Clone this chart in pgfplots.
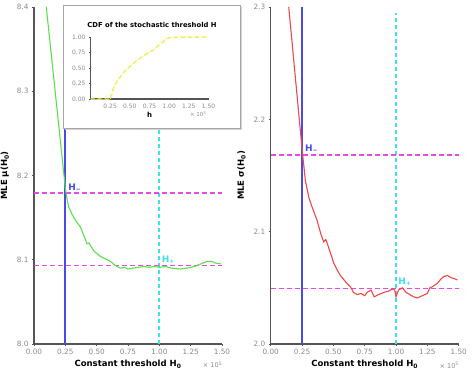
\documentclass[border=0pt]{standalone}
\usepackage{fontspec}
\setmainfont{DejaVu Sans}
\usepackage{pgfplots}
\pgfplotsset{compat=1.18}
\definecolor{axgray}{HTML}{555555}
\definecolor{tkgray}{HTML}{8A8A8A}
\definecolor{myblue}{HTML}{4A4AE8}
\definecolor{mycyan}{HTML}{3FE0F0}
\definecolor{mypink}{HTML}{E64AE6}
\definecolor{mygreen}{HTML}{5CE04A}
\definecolor{myred}{HTML}{EE4848}
\definecolor{myyellow}{HTML}{F2EE5A}
\pgfplotsset{
  panel/.style={
    scale only axis, width=188pt, height=337pt,
    xmin=0, xmax=1.5,
    axis x line*=bottom, axis y line*=left,
    axis line style={axgray, line width=1.4pt},
    tick style={axgray, line width=0.6pt},
    major tick length=2pt,
    tick align=outside,
    xtick={0,0.25,0.5,0.75,1.0,1.25,1.5},
    /pgf/number format/assume math mode=true,
    x tick label style={font=\fontsize{7.3}{8}\selectfont, text=tkgray, /pgf/number format/.cd, fixed, fixed zerofill, precision=2},
    y tick label style={font=\fontsize{7.3}{8}\selectfont, text=tkgray, /pgf/number format/.cd, fixed, fixed zerofill, precision=1},
    scaled x ticks=false, scaled y ticks=false,
    xlabel style={font=\bfseries\fontsize{8.5}{10}\selectfont, yshift=2pt},
    ylabel style={font=\bfseries\fontsize{8.5}{10}\selectfont, yshift=1pt},
    clip=false,
  },
  hline/.style={color=mypink, line width=1.7pt, dash pattern=on 5pt off 3pt},
}
\begin{document}
\begin{tikzpicture}
\path[use as bounding box] (0,0) rectangle (474pt,372pt);
% left panel
\begin{axis}[panel, at={(34pt,28pt)}, anchor=south west,
  ymin=8.0, ymax=8.4, ytick={8.0,8.1,8.2,8.3,8.4},
  xlabel={Constant threshold H\textsubscript{0}},
  ylabel={MLE μ(H\textsubscript{0})}]
\addplot[myblue, line width=2.2pt] coordinates {(0.25,8.0) (0.25,8.4)};
\addplot[mycyan, line width=1.8pt, dash pattern=on 4pt off 3pt] coordinates {(1.0,8.0) (1.0,8.4)};
\addplot[hline] coordinates {(0,8.179) (1.5,8.179)};
\addplot[hline] coordinates {(0,8.093) (1.5,8.093)};
\addplot[mygreen, line width=1.1pt] coordinates {
(0.098,8.4) (0.25,8.185) (0.26,8.175) (0.276,8.163) (0.3,8.155) (0.33,8.147) (0.37,8.139) (0.40,8.128) (0.423,8.119) (0.44,8.12) (0.45,8.117) (0.48,8.11) (0.53,8.104) (0.57,8.101) (0.61,8.098) (0.65,8.093) (0.69,8.090) (0.72,8.091) (0.75,8.089) (0.79,8.090) (0.83,8.091) (0.875,8.092) (0.92,8.091) (0.96,8.092) (1.0,8.091) (1.05,8.092) (1.1,8.090) (1.17,8.089) (1.22,8.090) (1.28,8.092) (1.33,8.095) (1.38,8.098) (1.42,8.098) (1.45,8.096) (1.49,8.095)};
\node[anchor=south west, font=\bfseries\fontsize{9}{10}\selectfont, text=myblue, inner sep=1pt] at (axis cs:0.265,8.180) {H\textsubscript{−}};
\node[anchor=south west, font=\bfseries\fontsize{9}{10}\selectfont, text=mycyan, inner sep=1pt] at (axis cs:1.01,8.094) {H\textsubscript{+}};
\node[anchor=west, font=\fontsize{6.5}{7}\selectfont, text=tkgray] at (axis cs:1.32,7.975) {× 10\textsuperscript{5}};
\end{axis}
% right panel
\begin{axis}[panel, at={(270.7pt,28pt)}, anchor=south west,
  ymin=2.0, ymax=2.3, ytick={2.0,2.1,2.2,2.3},
  xlabel={Constant threshold H\textsubscript{0}},
  ylabel={MLE σ(H\textsubscript{0})}]
\addplot[myblue, line width=2.2pt] coordinates {(0.25,2.0) (0.25,2.3)};
\addplot[mycyan, line width=1.8pt, dash pattern=on 4pt off 3pt] coordinates {(1.0,2.0) (1.0,2.295)};
\addplot[hline] coordinates {(0,2.168) (1.5,2.168)};
\addplot[hline] coordinates {(0,2.0495) (1.5,2.0495)};
\addplot[myred, line width=1.1pt] coordinates {
(0.144,2.3) (0.25,2.174) (0.276,2.146) (0.303,2.131) (0.33,2.122) (0.37,2.110) (0.40,2.098) (0.423,2.091) (0.44,2.093) (0.45,2.090) (0.48,2.080) (0.503,2.072) (0.53,2.066) (0.556,2.061) (0.6,2.055) (0.636,2.051) (0.66,2.046) (0.69,2.044) (0.72,2.045) (0.75,2.043) (0.77,2.046) (0.80,2.048) (0.826,2.042) (0.86,2.044) (0.905,2.046) (0.94,2.047) (0.97,2.049) (0.99,2.048) (1.0,2.042) (1.02,2.048) (1.05,2.050) (1.08,2.046) (1.11,2.044) (1.14,2.042) (1.17,2.041) (1.21,2.043) (1.25,2.045) (1.27,2.050) (1.29,2.051) (1.33,2.054) (1.36,2.058) (1.38,2.060) (1.41,2.061) (1.44,2.059) (1.47,2.058) (1.49,2.057)};
\node[anchor=south west, font=\bfseries\fontsize{9}{10}\selectfont, text=myblue, inner sep=1pt] at (axis cs:0.265,2.169) {H\textsubscript{−}};
\node[anchor=south west, font=\bfseries\fontsize{9}{10}\selectfont, text=mycyan, inner sep=1pt] at (axis cs:1.01,2.051) {H\textsubscript{+}};
\node[anchor=west, font=\fontsize{6.5}{7}\selectfont, text=tkgray] at (axis cs:1.32,1.981) {× 10\textsuperscript{5}};
\end{axis}
% inset
\fill[gray!35] (65pt,242pt) rectangle (242pt,365pt);
\draw[fill=white, draw=gray!70, line width=0.8pt] (63pt,244pt) rectangle (240pt,367pt);
\begin{axis}[at={(90.5pt,273pt)}, anchor=south west, scale only axis,
  width=118pt, height=62pt, xmin=0, xmax=1.5, ymin=0, ymax=1,
  axis x line*=bottom, axis y line*=left,
  axis line style={axgray, line width=1.1pt},
  tick style={axgray, line width=0.5pt}, major tick length=1.5pt, tick align=outside,
  xtick={0.25,0.5,0.75,1.0,1.25,1.5}, ytick={0,0.25,0.5,0.75,1.0},
  /pgf/number format/assume math mode=true,
  x tick label style={font=\fontsize{6}{7}\selectfont, text=tkgray, /pgf/number format/.cd, fixed, fixed zerofill, precision=2},
  y tick label style={font=\fontsize{6}{7}\selectfont, text=tkgray, /pgf/number format/.cd, fixed, fixed zerofill, precision=2},
  scaled x ticks=false, scaled y ticks=false, clip=false,
  xlabel={h}, xlabel style={font=\bfseries\fontsize{7}{8}\selectfont, yshift=3pt}]
\addplot[myyellow!60, line width=0.5pt, smooth] coordinates {(0,0) (0.25,0) (0.3,0.2) (0.36,0.33) (0.45,0.47) (0.6,0.63) (0.8,0.79) (1.0,0.99) (1.5,1.0)};
\addplot[myyellow, line width=1.4pt, dash pattern=on 4pt off 3pt] coordinates {(0,0) (0.25,0) (0.27,0.1) (0.3,0.2) (0.36,0.33) (0.45,0.47) (0.6,0.63) (0.7,0.72) (0.8,0.79) (0.9,0.9) (1.0,0.99) (1.5,1.0)};
\node[anchor=west, font=\fontsize{5.5}{6}\selectfont, text=tkgray] at (axis cs:1.22,-0.25) {× 10\textsuperscript{3}};
\end{axis}
\node[font=\bfseries\fontsize{6.8}{8}\selectfont] at (152pt,347pt) {CDF of the stochastic threshold H};
\end{tikzpicture}
\end{document}
